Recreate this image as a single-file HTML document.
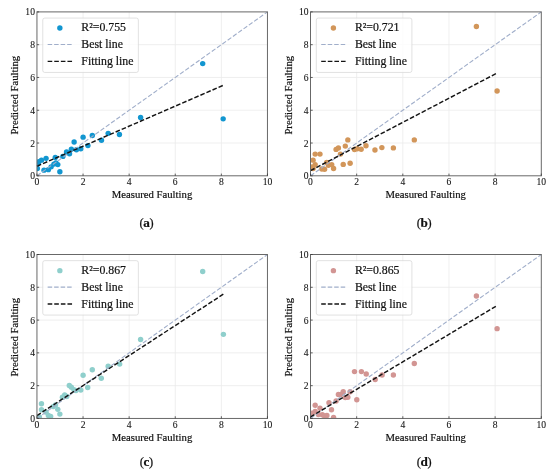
<!DOCTYPE html>
<html lang="en"><head><meta charset="utf-8"><title>Predicted vs measured faulting</title>
<style>
html,body{margin:0;padding:0;background:#fff;}
body{width:550px;height:472px;overflow:hidden;}
svg{display:block;}
text{font-family:"Liberation Serif",serif;fill:#111;stroke:#111;stroke-width:0.2px;}
.tk{font-size:9.6px;stroke-width:0.08px;}
.lb{font-size:10.7px;}
.lg{font-size:11.8px;}
.cp{font-size:12.4px;}
.grid{stroke:#ebebeb;stroke-width:0.8;}
.spine{fill:none;stroke:#686868;stroke-width:1.0;}
.tick{stroke:#3a3a3a;stroke-width:0.8;}
.best{stroke:#a0aeca;stroke-width:1.1;stroke-dasharray:4.5 2.0;fill:none;}
.fit{stroke:#141414;stroke-width:1.45;stroke-dasharray:4.6 2.0;fill:none;}
</style></head><body>
<svg width="550" height="472" viewBox="0 0 550 472">
<rect x="0" y="0" width="550" height="472" fill="#fff"/>

<g id="panel-a">
<line class="grid" x1="83.05" y1="175.80" x2="83.05" y2="11.90"/>
<line class="grid" x1="36.95" y1="143.02" x2="267.45" y2="143.02"/>
<line class="grid" x1="129.15" y1="175.80" x2="129.15" y2="11.90"/>
<line class="grid" x1="36.95" y1="110.24" x2="267.45" y2="110.24"/>
<line class="grid" x1="175.25" y1="175.80" x2="175.25" y2="11.90"/>
<line class="grid" x1="36.95" y1="77.46" x2="267.45" y2="77.46"/>
<line class="grid" x1="221.35" y1="175.80" x2="221.35" y2="11.90"/>
<line class="grid" x1="36.95" y1="44.68" x2="267.45" y2="44.68"/>
<clipPath id="clip-a"><rect x="36.95" y="11.90" width="230.50" height="163.90"/></clipPath>
<g clip-path="url(#clip-a)">
<circle cx="59.87" cy="171.77" r="2.7" fill="#1296d0"/>
<circle cx="44.00" cy="170.13" r="2.7" fill="#1296d0"/>
<circle cx="48.37" cy="169.64" r="2.7" fill="#1296d0"/>
<circle cx="51.13" cy="166.87" r="2.7" fill="#1296d0"/>
<circle cx="53.89" cy="164.09" r="2.7" fill="#1296d0"/>
<circle cx="55.96" cy="162.94" r="2.7" fill="#1296d0"/>
<circle cx="57.80" cy="164.58" r="2.7" fill="#1296d0"/>
<circle cx="37.33" cy="168.50" r="2.7" fill="#1296d0"/>
<circle cx="37.79" cy="163.60" r="2.7" fill="#1296d0"/>
<circle cx="38.94" cy="161.80" r="2.7" fill="#1296d0"/>
<circle cx="41.47" cy="160.17" r="2.7" fill="#1296d0"/>
<circle cx="46.07" cy="158.37" r="2.7" fill="#1296d0"/>
<circle cx="55.27" cy="157.55" r="2.7" fill="#1296d0"/>
<circle cx="62.86" cy="156.41" r="2.7" fill="#1296d0"/>
<circle cx="66.54" cy="152.00" r="2.7" fill="#1296d0"/>
<circle cx="69.53" cy="153.79" r="2.7" fill="#1296d0"/>
<circle cx="71.37" cy="149.22" r="2.7" fill="#1296d0"/>
<circle cx="74.13" cy="142.03" r="2.7" fill="#1296d0"/>
<circle cx="76.43" cy="149.71" r="2.7" fill="#1296d0"/>
<circle cx="80.80" cy="148.73" r="2.7" fill="#1296d0"/>
<circle cx="83.10" cy="137.13" r="2.7" fill="#1296d0"/>
<circle cx="87.93" cy="145.62" r="2.7" fill="#1296d0"/>
<circle cx="92.30" cy="135.49" r="2.7" fill="#1296d0"/>
<circle cx="101.50" cy="140.23" r="2.7" fill="#1296d0"/>
<circle cx="108.17" cy="133.37" r="2.7" fill="#1296d0"/>
<circle cx="119.44" cy="134.51" r="2.7" fill="#1296d0"/>
<circle cx="140.60" cy="117.52" r="2.7" fill="#1296d0"/>
<circle cx="202.70" cy="63.60" r="2.7" fill="#1296d0"/>
<circle cx="223.17" cy="118.83" r="2.7" fill="#1296d0"/>
</g>
<line class="best" x1="36.95" y1="175.80" x2="267.45" y2="11.90"/>
<line class="fit" x1="36.95" y1="166.21" x2="223.17" y2="85.33"/>
<rect class="spine" x="36.95" y="11.90" width="230.50" height="163.90"/>
<line class="tick" x1="36.95" y1="175.80" x2="36.95" y2="173.60"/>
<line class="tick" x1="36.95" y1="175.80" x2="39.15" y2="175.80"/>
<line class="tick" x1="83.05" y1="175.80" x2="83.05" y2="173.60"/>
<line class="tick" x1="36.95" y1="143.02" x2="39.15" y2="143.02"/>
<line class="tick" x1="129.15" y1="175.80" x2="129.15" y2="173.60"/>
<line class="tick" x1="36.95" y1="110.24" x2="39.15" y2="110.24"/>
<line class="tick" x1="175.25" y1="175.80" x2="175.25" y2="173.60"/>
<line class="tick" x1="36.95" y1="77.46" x2="39.15" y2="77.46"/>
<line class="tick" x1="221.35" y1="175.80" x2="221.35" y2="173.60"/>
<line class="tick" x1="36.95" y1="44.68" x2="39.15" y2="44.68"/>
<line class="tick" x1="267.45" y1="175.80" x2="267.45" y2="173.60"/>
<line class="tick" x1="36.95" y1="11.90" x2="39.15" y2="11.90"/>
<text class="tk" transform="translate(36.95,184.90) scale(1,1.1)" text-anchor="middle">0</text>
<text class="tk" transform="translate(34.95,179.30) scale(1,1.1)" text-anchor="end">0</text>
<text class="tk" transform="translate(83.05,184.90) scale(1,1.1)" text-anchor="middle">2</text>
<text class="tk" transform="translate(34.95,146.52) scale(1,1.1)" text-anchor="end">2</text>
<text class="tk" transform="translate(129.15,184.90) scale(1,1.1)" text-anchor="middle">4</text>
<text class="tk" transform="translate(34.95,113.74) scale(1,1.1)" text-anchor="end">4</text>
<text class="tk" transform="translate(175.25,184.90) scale(1,1.1)" text-anchor="middle">6</text>
<text class="tk" transform="translate(34.95,80.96) scale(1,1.1)" text-anchor="end">6</text>
<text class="tk" transform="translate(221.35,184.90) scale(1,1.1)" text-anchor="middle">8</text>
<text class="tk" transform="translate(34.95,48.18) scale(1,1.1)" text-anchor="end">8</text>
<text class="tk" transform="translate(267.45,184.90) scale(1,1.1)" text-anchor="middle">10</text>
<text class="tk" transform="translate(34.95,15.40) scale(1,1.1)" text-anchor="end">10</text>
<text class="lb" transform="translate(152.00,198.10) " text-anchor="middle">Measured Faulting</text>
<text class="lb" transform="translate(17.95,95.25) rotate(-90)" text-anchor="middle">Predicted Faulting</text>
<rect x="42.75" y="18.05" width="95.6" height="54.4" rx="2" ry="2" fill="#fff" fill-opacity="0.8" stroke="#d4d4d4" stroke-width="0.7"/>
<circle cx="59.85" cy="28.05" r="2.7" fill="#1296d0"/>
<line class="best" x1="47.65" y1="44.55" x2="72.25" y2="44.55"/>
<line class="fit" x1="47.65" y1="61.35" x2="72.25" y2="61.35"/>
<text class="lg" x="81.35" y="31.35">R²=0.755</text>
<text class="lg" x="81.35" y="48.15">Best line</text>
<text class="lg" x="81.35" y="64.95">Fitting line</text>
<text class="cp" x="146.30" y="226.80" text-anchor="middle" letter-spacing="-0.4">(<tspan font-weight="bold" font-size="13.2">a</tspan>)</text>
</g>
<g id="panel-b">
<line class="grid" x1="356.66" y1="175.80" x2="356.66" y2="11.90"/>
<line class="grid" x1="310.50" y1="143.02" x2="541.30" y2="143.02"/>
<line class="grid" x1="402.82" y1="175.80" x2="402.82" y2="11.90"/>
<line class="grid" x1="310.50" y1="110.24" x2="541.30" y2="110.24"/>
<line class="grid" x1="448.98" y1="175.80" x2="448.98" y2="11.90"/>
<line class="grid" x1="310.50" y1="77.46" x2="541.30" y2="77.46"/>
<line class="grid" x1="495.14" y1="175.80" x2="495.14" y2="11.90"/>
<line class="grid" x1="310.50" y1="44.68" x2="541.30" y2="44.68"/>
<clipPath id="clip-b"><rect x="310.50" y="11.90" width="230.80" height="163.90"/></clipPath>
<g clip-path="url(#clip-b)">
<circle cx="315.17" cy="154.12" r="2.7" fill="#d2965a"/>
<circle cx="320.00" cy="154.12" r="2.7" fill="#d2965a"/>
<circle cx="313.10" cy="160.17" r="2.7" fill="#d2965a"/>
<circle cx="315.17" cy="164.58" r="2.7" fill="#d2965a"/>
<circle cx="311.95" cy="166.87" r="2.7" fill="#d2965a"/>
<circle cx="313.10" cy="168.50" r="2.7" fill="#d2965a"/>
<circle cx="321.84" cy="168.99" r="2.7" fill="#d2965a"/>
<circle cx="324.60" cy="169.32" r="2.7" fill="#d2965a"/>
<circle cx="326.67" cy="162.45" r="2.7" fill="#d2965a"/>
<circle cx="328.51" cy="165.23" r="2.7" fill="#d2965a"/>
<circle cx="331.73" cy="164.58" r="2.7" fill="#d2965a"/>
<circle cx="333.57" cy="168.50" r="2.7" fill="#d2965a"/>
<circle cx="336.10" cy="149.38" r="2.7" fill="#d2965a"/>
<circle cx="338.40" cy="147.91" r="2.7" fill="#d2965a"/>
<circle cx="340.47" cy="154.12" r="2.7" fill="#d2965a"/>
<circle cx="343.23" cy="164.42" r="2.7" fill="#d2965a"/>
<circle cx="345.30" cy="146.11" r="2.7" fill="#d2965a"/>
<circle cx="347.83" cy="139.91" r="2.7" fill="#d2965a"/>
<circle cx="350.13" cy="163.27" r="2.7" fill="#d2965a"/>
<circle cx="354.50" cy="149.55" r="2.7" fill="#d2965a"/>
<circle cx="357.26" cy="148.73" r="2.7" fill="#d2965a"/>
<circle cx="361.17" cy="149.22" r="2.7" fill="#d2965a"/>
<circle cx="366.00" cy="145.79" r="2.7" fill="#d2965a"/>
<circle cx="374.97" cy="150.04" r="2.7" fill="#d2965a"/>
<circle cx="381.87" cy="147.59" r="2.7" fill="#d2965a"/>
<circle cx="393.37" cy="147.91" r="2.7" fill="#d2965a"/>
<circle cx="414.30" cy="139.91" r="2.7" fill="#d2965a"/>
<circle cx="476.40" cy="26.51" r="2.7" fill="#d2965a"/>
<circle cx="497.10" cy="91.05" r="2.7" fill="#d2965a"/>
</g>
<line class="best" x1="310.50" y1="175.80" x2="541.30" y2="11.90"/>
<line class="fit" x1="310.50" y1="170.62" x2="497.10" y2="73.07"/>
<rect class="spine" x="310.50" y="11.90" width="230.80" height="163.90"/>
<line class="tick" x1="310.50" y1="175.80" x2="310.50" y2="173.60"/>
<line class="tick" x1="310.50" y1="175.80" x2="312.70" y2="175.80"/>
<line class="tick" x1="356.66" y1="175.80" x2="356.66" y2="173.60"/>
<line class="tick" x1="310.50" y1="143.02" x2="312.70" y2="143.02"/>
<line class="tick" x1="402.82" y1="175.80" x2="402.82" y2="173.60"/>
<line class="tick" x1="310.50" y1="110.24" x2="312.70" y2="110.24"/>
<line class="tick" x1="448.98" y1="175.80" x2="448.98" y2="173.60"/>
<line class="tick" x1="310.50" y1="77.46" x2="312.70" y2="77.46"/>
<line class="tick" x1="495.14" y1="175.80" x2="495.14" y2="173.60"/>
<line class="tick" x1="310.50" y1="44.68" x2="312.70" y2="44.68"/>
<line class="tick" x1="541.30" y1="175.80" x2="541.30" y2="173.60"/>
<line class="tick" x1="310.50" y1="11.90" x2="312.70" y2="11.90"/>
<text class="tk" transform="translate(310.50,184.90) scale(1,1.1)" text-anchor="middle">0</text>
<text class="tk" transform="translate(308.50,179.30) scale(1,1.1)" text-anchor="end">0</text>
<text class="tk" transform="translate(356.66,184.90) scale(1,1.1)" text-anchor="middle">2</text>
<text class="tk" transform="translate(308.50,146.52) scale(1,1.1)" text-anchor="end">2</text>
<text class="tk" transform="translate(402.82,184.90) scale(1,1.1)" text-anchor="middle">4</text>
<text class="tk" transform="translate(308.50,113.74) scale(1,1.1)" text-anchor="end">4</text>
<text class="tk" transform="translate(448.98,184.90) scale(1,1.1)" text-anchor="middle">6</text>
<text class="tk" transform="translate(308.50,80.96) scale(1,1.1)" text-anchor="end">6</text>
<text class="tk" transform="translate(495.14,184.90) scale(1,1.1)" text-anchor="middle">8</text>
<text class="tk" transform="translate(308.50,48.18) scale(1,1.1)" text-anchor="end">8</text>
<text class="tk" transform="translate(541.30,184.90) scale(1,1.1)" text-anchor="middle">10</text>
<text class="tk" transform="translate(308.50,15.40) scale(1,1.1)" text-anchor="end">10</text>
<text class="lb" transform="translate(425.70,198.10) " text-anchor="middle">Measured Faulting</text>
<text class="lb" transform="translate(292.30,95.25) rotate(-90)" text-anchor="middle">Predicted Faulting</text>
<rect x="316.30" y="18.05" width="95.6" height="54.4" rx="2" ry="2" fill="#fff" fill-opacity="0.8" stroke="#d4d4d4" stroke-width="0.7"/>
<circle cx="333.40" cy="28.05" r="2.7" fill="#d2965a"/>
<line class="best" x1="321.20" y1="44.55" x2="345.80" y2="44.55"/>
<line class="fit" x1="321.20" y1="61.35" x2="345.80" y2="61.35"/>
<text class="lg" x="354.90" y="31.35">R²=0.721</text>
<text class="lg" x="354.90" y="48.15">Best line</text>
<text class="lg" x="354.90" y="64.95">Fitting line</text>
<text class="cp" x="424.00" y="226.80" text-anchor="middle" letter-spacing="-0.4">(<tspan font-weight="bold" font-size="13.2">b</tspan>)</text>
</g>
<g id="panel-c">
<line class="grid" x1="83.05" y1="418.45" x2="83.05" y2="254.50"/>
<line class="grid" x1="36.95" y1="385.66" x2="267.45" y2="385.66"/>
<line class="grid" x1="129.15" y1="418.45" x2="129.15" y2="254.50"/>
<line class="grid" x1="36.95" y1="352.87" x2="267.45" y2="352.87"/>
<line class="grid" x1="175.25" y1="418.45" x2="175.25" y2="254.50"/>
<line class="grid" x1="36.95" y1="320.08" x2="267.45" y2="320.08"/>
<line class="grid" x1="221.35" y1="418.45" x2="221.35" y2="254.50"/>
<line class="grid" x1="36.95" y1="287.29" x2="267.45" y2="287.29"/>
<clipPath id="clip-c"><rect x="36.95" y="254.50" width="230.50" height="163.95"/></clipPath>
<g clip-path="url(#clip-c)">
<circle cx="41.47" cy="403.81" r="2.7" fill="#8fcfcc"/>
<circle cx="41.47" cy="409.69" r="2.7" fill="#8fcfcc"/>
<circle cx="39.40" cy="417.05" r="2.7" fill="#8fcfcc"/>
<circle cx="46.07" cy="412.14" r="2.7" fill="#8fcfcc"/>
<circle cx="48.37" cy="415.41" r="2.7" fill="#8fcfcc"/>
<circle cx="50.67" cy="416.56" r="2.7" fill="#8fcfcc"/>
<circle cx="53.20" cy="406.59" r="2.7" fill="#8fcfcc"/>
<circle cx="55.50" cy="404.95" r="2.7" fill="#8fcfcc"/>
<circle cx="57.80" cy="409.37" r="2.7" fill="#8fcfcc"/>
<circle cx="59.87" cy="414.11" r="2.7" fill="#8fcfcc"/>
<circle cx="62.40" cy="397.27" r="2.7" fill="#8fcfcc"/>
<circle cx="64.70" cy="394.99" r="2.7" fill="#8fcfcc"/>
<circle cx="66.77" cy="396.46" r="2.7" fill="#8fcfcc"/>
<circle cx="69.30" cy="385.51" r="2.7" fill="#8fcfcc"/>
<circle cx="71.37" cy="387.31" r="2.7" fill="#8fcfcc"/>
<circle cx="73.90" cy="389.60" r="2.7" fill="#8fcfcc"/>
<circle cx="75.97" cy="390.58" r="2.7" fill="#8fcfcc"/>
<circle cx="80.80" cy="390.09" r="2.7" fill="#8fcfcc"/>
<circle cx="83.10" cy="375.22" r="2.7" fill="#8fcfcc"/>
<circle cx="87.70" cy="387.47" r="2.7" fill="#8fcfcc"/>
<circle cx="92.30" cy="369.82" r="2.7" fill="#8fcfcc"/>
<circle cx="101.27" cy="378.32" r="2.7" fill="#8fcfcc"/>
<circle cx="108.17" cy="366.23" r="2.7" fill="#8fcfcc"/>
<circle cx="119.67" cy="364.10" r="2.7" fill="#8fcfcc"/>
<circle cx="140.60" cy="339.43" r="2.7" fill="#8fcfcc"/>
<circle cx="202.70" cy="271.46" r="2.7" fill="#8fcfcc"/>
<circle cx="223.40" cy="334.37" r="2.7" fill="#8fcfcc"/>
</g>
<line class="best" x1="36.95" y1="418.45" x2="267.45" y2="254.50"/>
<line class="fit" x1="36.95" y1="415.58" x2="223.40" y2="294.17"/>
<rect class="spine" x="36.95" y="254.50" width="230.50" height="163.95"/>
<line class="tick" x1="36.95" y1="418.45" x2="36.95" y2="416.25"/>
<line class="tick" x1="36.95" y1="418.45" x2="39.15" y2="418.45"/>
<line class="tick" x1="83.05" y1="418.45" x2="83.05" y2="416.25"/>
<line class="tick" x1="36.95" y1="385.66" x2="39.15" y2="385.66"/>
<line class="tick" x1="129.15" y1="418.45" x2="129.15" y2="416.25"/>
<line class="tick" x1="36.95" y1="352.87" x2="39.15" y2="352.87"/>
<line class="tick" x1="175.25" y1="418.45" x2="175.25" y2="416.25"/>
<line class="tick" x1="36.95" y1="320.08" x2="39.15" y2="320.08"/>
<line class="tick" x1="221.35" y1="418.45" x2="221.35" y2="416.25"/>
<line class="tick" x1="36.95" y1="287.29" x2="39.15" y2="287.29"/>
<line class="tick" x1="267.45" y1="418.45" x2="267.45" y2="416.25"/>
<line class="tick" x1="36.95" y1="254.50" x2="39.15" y2="254.50"/>
<text class="tk" transform="translate(36.95,427.60) scale(1,1.1)" text-anchor="middle">0</text>
<text class="tk" transform="translate(34.95,421.95) scale(1,1.1)" text-anchor="end">0</text>
<text class="tk" transform="translate(83.05,427.60) scale(1,1.1)" text-anchor="middle">2</text>
<text class="tk" transform="translate(34.95,389.16) scale(1,1.1)" text-anchor="end">2</text>
<text class="tk" transform="translate(129.15,427.60) scale(1,1.1)" text-anchor="middle">4</text>
<text class="tk" transform="translate(34.95,356.37) scale(1,1.1)" text-anchor="end">4</text>
<text class="tk" transform="translate(175.25,427.60) scale(1,1.1)" text-anchor="middle">6</text>
<text class="tk" transform="translate(34.95,323.58) scale(1,1.1)" text-anchor="end">6</text>
<text class="tk" transform="translate(221.35,427.60) scale(1,1.1)" text-anchor="middle">8</text>
<text class="tk" transform="translate(34.95,290.79) scale(1,1.1)" text-anchor="end">8</text>
<text class="tk" transform="translate(267.45,427.60) scale(1,1.1)" text-anchor="middle">10</text>
<text class="tk" transform="translate(34.95,258.00) scale(1,1.1)" text-anchor="end">10</text>
<text class="lb" transform="translate(152.00,440.75) " text-anchor="middle">Measured Faulting</text>
<text class="lb" transform="translate(17.95,337.27) rotate(-90)" text-anchor="middle">Predicted Faulting</text>
<rect x="42.75" y="260.65" width="95.6" height="54.4" rx="2" ry="2" fill="#fff" fill-opacity="0.8" stroke="#d4d4d4" stroke-width="0.7"/>
<circle cx="59.85" cy="270.65" r="2.7" fill="#8fcfcc"/>
<line class="best" x1="47.65" y1="287.15" x2="72.25" y2="287.15"/>
<line class="fit" x1="47.65" y1="303.95" x2="72.25" y2="303.95"/>
<text class="lg" x="81.35" y="273.95">R²=0.867</text>
<text class="lg" x="81.35" y="290.75">Best line</text>
<text class="lg" x="81.35" y="307.55">Fitting line</text>
<text class="cp" x="146.30" y="466.00" text-anchor="middle" letter-spacing="-0.4">(<tspan font-weight="bold" font-size="13.2">c</tspan>)</text>
</g>
<g id="panel-d">
<line class="grid" x1="356.66" y1="418.45" x2="356.66" y2="254.50"/>
<line class="grid" x1="310.50" y1="385.66" x2="541.30" y2="385.66"/>
<line class="grid" x1="402.82" y1="418.45" x2="402.82" y2="254.50"/>
<line class="grid" x1="310.50" y1="352.87" x2="541.30" y2="352.87"/>
<line class="grid" x1="448.98" y1="418.45" x2="448.98" y2="254.50"/>
<line class="grid" x1="310.50" y1="320.08" x2="541.30" y2="320.08"/>
<line class="grid" x1="495.14" y1="418.45" x2="495.14" y2="254.50"/>
<line class="grid" x1="310.50" y1="287.29" x2="541.30" y2="287.29"/>
<clipPath id="clip-d"><rect x="310.50" y="254.50" width="230.80" height="163.95"/></clipPath>
<g clip-path="url(#clip-d)">
<circle cx="315.17" cy="405.28" r="2.7" fill="#d29593"/>
<circle cx="315.17" cy="411.49" r="2.7" fill="#d29593"/>
<circle cx="311.95" cy="413.12" r="2.7" fill="#d29593"/>
<circle cx="320.00" cy="408.22" r="2.7" fill="#d29593"/>
<circle cx="318.39" cy="414.43" r="2.7" fill="#d29593"/>
<circle cx="322.30" cy="414.76" r="2.7" fill="#d29593"/>
<circle cx="324.60" cy="415.90" r="2.7" fill="#d29593"/>
<circle cx="326.90" cy="415.41" r="2.7" fill="#d29593"/>
<circle cx="328.97" cy="402.67" r="2.7" fill="#d29593"/>
<circle cx="331.50" cy="409.69" r="2.7" fill="#d29593"/>
<circle cx="333.57" cy="417.37" r="2.7" fill="#d29593"/>
<circle cx="336.10" cy="401.03" r="2.7" fill="#d29593"/>
<circle cx="338.40" cy="394.50" r="2.7" fill="#d29593"/>
<circle cx="340.70" cy="394.50" r="2.7" fill="#d29593"/>
<circle cx="343.23" cy="391.72" r="2.7" fill="#d29593"/>
<circle cx="345.30" cy="397.60" r="2.7" fill="#d29593"/>
<circle cx="347.83" cy="397.27" r="2.7" fill="#d29593"/>
<circle cx="350.13" cy="391.72" r="2.7" fill="#d29593"/>
<circle cx="354.50" cy="371.62" r="2.7" fill="#d29593"/>
<circle cx="356.80" cy="399.73" r="2.7" fill="#d29593"/>
<circle cx="361.40" cy="371.62" r="2.7" fill="#d29593"/>
<circle cx="366.23" cy="374.07" r="2.7" fill="#d29593"/>
<circle cx="375.20" cy="379.46" r="2.7" fill="#d29593"/>
<circle cx="382.10" cy="375.05" r="2.7" fill="#d29593"/>
<circle cx="393.37" cy="375.05" r="2.7" fill="#d29593"/>
<circle cx="414.30" cy="363.45" r="2.7" fill="#d29593"/>
<circle cx="476.40" cy="295.97" r="2.7" fill="#d29593"/>
<circle cx="497.10" cy="328.65" r="2.7" fill="#d29593"/>
</g>
<line class="best" x1="310.50" y1="418.45" x2="541.30" y2="254.50"/>
<line class="fit" x1="310.50" y1="416.88" x2="497.10" y2="305.61"/>
<rect class="spine" x="310.50" y="254.50" width="230.80" height="163.95"/>
<line class="tick" x1="310.50" y1="418.45" x2="310.50" y2="416.25"/>
<line class="tick" x1="310.50" y1="418.45" x2="312.70" y2="418.45"/>
<line class="tick" x1="356.66" y1="418.45" x2="356.66" y2="416.25"/>
<line class="tick" x1="310.50" y1="385.66" x2="312.70" y2="385.66"/>
<line class="tick" x1="402.82" y1="418.45" x2="402.82" y2="416.25"/>
<line class="tick" x1="310.50" y1="352.87" x2="312.70" y2="352.87"/>
<line class="tick" x1="448.98" y1="418.45" x2="448.98" y2="416.25"/>
<line class="tick" x1="310.50" y1="320.08" x2="312.70" y2="320.08"/>
<line class="tick" x1="495.14" y1="418.45" x2="495.14" y2="416.25"/>
<line class="tick" x1="310.50" y1="287.29" x2="312.70" y2="287.29"/>
<line class="tick" x1="541.30" y1="418.45" x2="541.30" y2="416.25"/>
<line class="tick" x1="310.50" y1="254.50" x2="312.70" y2="254.50"/>
<text class="tk" transform="translate(310.50,427.60) scale(1,1.1)" text-anchor="middle">0</text>
<text class="tk" transform="translate(308.50,421.95) scale(1,1.1)" text-anchor="end">0</text>
<text class="tk" transform="translate(356.66,427.60) scale(1,1.1)" text-anchor="middle">2</text>
<text class="tk" transform="translate(308.50,389.16) scale(1,1.1)" text-anchor="end">2</text>
<text class="tk" transform="translate(402.82,427.60) scale(1,1.1)" text-anchor="middle">4</text>
<text class="tk" transform="translate(308.50,356.37) scale(1,1.1)" text-anchor="end">4</text>
<text class="tk" transform="translate(448.98,427.60) scale(1,1.1)" text-anchor="middle">6</text>
<text class="tk" transform="translate(308.50,323.58) scale(1,1.1)" text-anchor="end">6</text>
<text class="tk" transform="translate(495.14,427.60) scale(1,1.1)" text-anchor="middle">8</text>
<text class="tk" transform="translate(308.50,290.79) scale(1,1.1)" text-anchor="end">8</text>
<text class="tk" transform="translate(541.30,427.60) scale(1,1.1)" text-anchor="middle">10</text>
<text class="tk" transform="translate(308.50,258.00) scale(1,1.1)" text-anchor="end">10</text>
<text class="lb" transform="translate(425.70,440.75) " text-anchor="middle">Measured Faulting</text>
<text class="lb" transform="translate(292.30,337.27) rotate(-90)" text-anchor="middle">Predicted Faulting</text>
<rect x="316.30" y="260.65" width="95.6" height="54.4" rx="2" ry="2" fill="#fff" fill-opacity="0.8" stroke="#d4d4d4" stroke-width="0.7"/>
<circle cx="333.40" cy="270.65" r="2.7" fill="#d29593"/>
<line class="best" x1="321.20" y1="287.15" x2="345.80" y2="287.15"/>
<line class="fit" x1="321.20" y1="303.95" x2="345.80" y2="303.95"/>
<text class="lg" x="354.90" y="273.95">R²=0.865</text>
<text class="lg" x="354.90" y="290.75">Best line</text>
<text class="lg" x="354.90" y="307.55">Fitting line</text>
<text class="cp" x="424.00" y="466.00" text-anchor="middle" letter-spacing="-0.4">(<tspan font-weight="bold" font-size="13.2">d</tspan>)</text>
</g>
</svg>
</body></html>
